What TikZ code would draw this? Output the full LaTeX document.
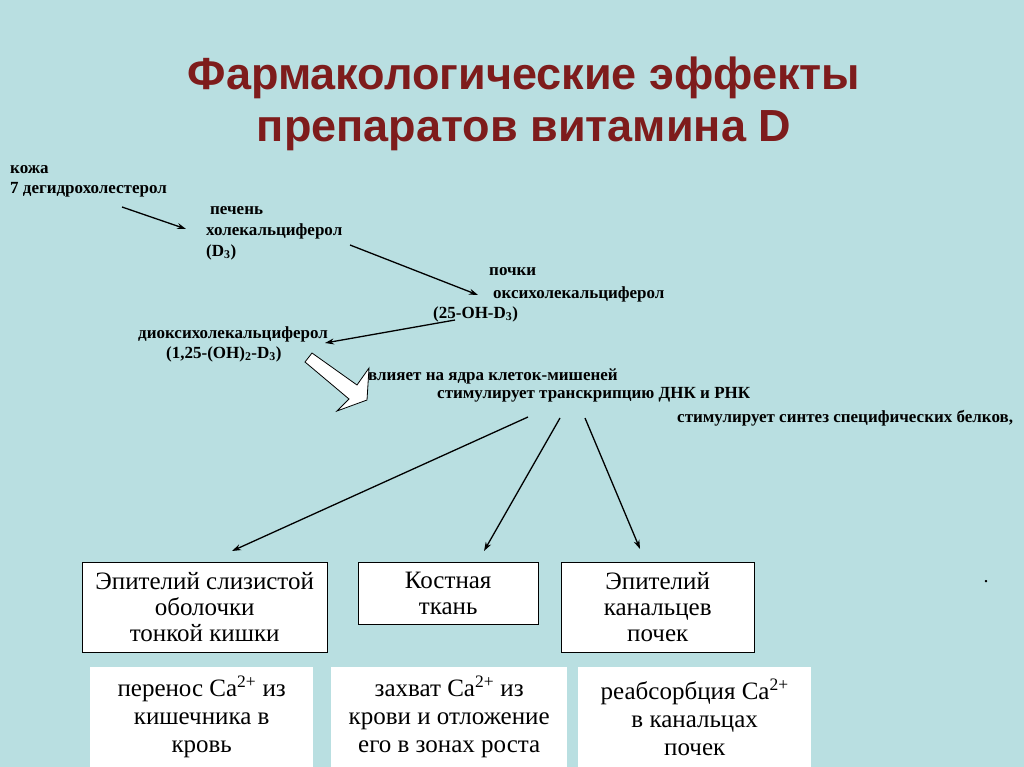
\documentclass[tikz,border=0pt]{standalone}
\usepackage{fontspec}
\usetikzlibrary{arrows.meta}
\setmainfont{Liberation Serif}
\newfontfamily\titlefont{Liberation Sans}
\definecolor{bgcyan}{HTML}{B9DFE1}
\definecolor{titlered}{HTML}{7E1C1C}
\begin{document}
\begin{tikzpicture}[x=1pt,y=-1pt,>={Stealth[length=9pt,width=6pt]},
    step text/.style={font=\bfseries\fontsize{17}{18}\selectfont,inner sep=0pt,anchor=west},
    organ box/.style={draw,fill=white,align=center,font=\fontsize{25}{26}\selectfont,minimum height=#1,anchor=north west},
    effect box/.style={fill=white,align=center,font=\fontsize{25}{28}\selectfont,anchor=north west,minimum height=100pt}]

            \fill[bgcyan] (0,0) rectangle (1024,767);
            \useasboundingbox (0,0) rectangle (1024,767);

            % title
            \node[font=\titlefont\bfseries\fontsize{45}{52}\selectfont, text=titlered, align=center] (title) at (524,104)
                {Фармакологические эффекты\\препаратов витамина D};

            % pathway of the vitamin
            \node[step text] (skin) at (10,170) {кожа};
            \node[step text] (dhc) at (10,190) {7 дегидрохолестерол};
            \node[step text] (liver) at (210,211) {печень};
            \node[step text] (chol) at (206,231) {холекальциферол};
            \node[step text] (d3) at (206,252) {(D\textsubscript{3})};
            \node[step text] (kidney) at (489,272) {почки};
            \node[step text] (oxy) at (493,294) {оксихолекальциферол};
            \node[step text] (oh) at (433,314) {(25-OH-D\textsubscript{3})};
            \node[step text] (dioxy) at (138,334) {диоксихолекальциферол};
            \node[step text] (ohtwo) at (166,354) {(1,25-(OH)\textsubscript{2}-D\textsubscript{3})};
            \node[step text] (nuclei) at (368,376) {влияет на ядра клеток-мишеней};
            \node[step text] (transcr) at (437,395) {стимулирует транскрипцию ДНК и РНК};
            \node[step text] (synth) at (677,418) {стимулирует синтез специфических белков,};

            \coordinate (a1) at (122,207); \coordinate (a2) at (186,229);
            \coordinate (b1) at (350,245); \coordinate (b2) at (478,295);
            \coordinate (c1) at (455,320); \coordinate (c2) at (325,343);
            \draw[->,line width=1.3pt] (a1) -- (a2);
            \draw[->,line width=1.3pt] (b1) -- (b2);
            \draw[->,line width=1.3pt] (c1) -- (c2);

            % big hollow arrow
            \draw[fill=white,thick] (305,362) -- (312,353) -- (357,385) -- (369,368)
                -- (367,400) -- (337,411) -- (349,399) -- cycle;

            % target tissues
            \node[organ box=90pt, minimum width=245pt] (gut) at (82,562)
                {Эпителий слизистой\\оболочки\\тонкой кишки};
            \node[organ box=62pt, minimum width=180pt] (bone) at (358,562)
                {Костная\\ткань};
            \node[organ box=90pt, minimum width=193pt] (tubule) at (561,562)
                {Эпителий\\канальцев\\почек};
            \node[font=\fontsize{20}{20}\selectfont] (dot) at (986,582) {.};

            \coordinate (s1) at (528,417); \coordinate (t1) at (232,551);
            \coordinate (s2) at (560,418); \coordinate (t2) at (484,551);
            \coordinate (s3) at (585,418); \coordinate (t3) at (640,549);
            \draw[->,line width=1.3pt] (s1) -- (t1);
            \draw[->,line width=1.3pt] (s2) -- (t2);
            \draw[->,line width=1.3pt] (s3) -- (t3);

            % effects
            \node[effect box, minimum width=223pt] (transfer) at (90,667)
                {перенос Ca\textsuperscript{2+} из\\кишечника в\\кровь};
            \node[effect box, minimum width=236pt] (uptake) at (331,667)
                {захват Ca\textsuperscript{2+} из\\крови и отложение\\его в зонах роста};
            \node[effect box, minimum width=233pt] (reabs) at (578,667)
                {реабсорбция Ca\textsuperscript{2+}\\в канальцах\\почек};
        \end{tikzpicture}
\end{document}
